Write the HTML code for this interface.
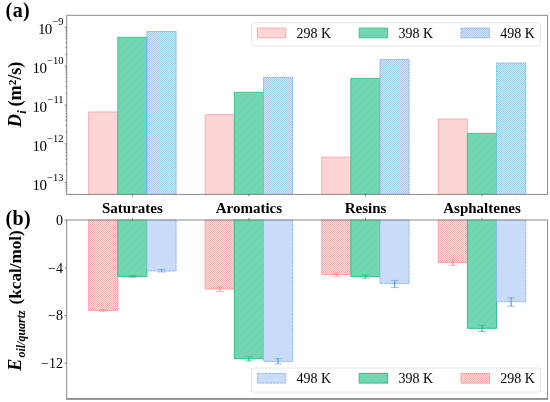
<!DOCTYPE html>
<html lang="en"><head><meta charset="utf-8"><title>Diffusion coefficients and interaction energies</title>
<style>
html,body{margin:0;padding:0;background:#fff;}
svg{display:block;font-family:"Liberation Serif","Times New Roman",serif;fill:#000;}
.b{font-weight:bold}
.i{font-style:italic}
</style></head><body>
<svg width="550" height="402" viewBox="0 0 550 402">
<defs>
<pattern id="pa" width="2" height="2" patternUnits="userSpaceOnUse"><rect width="2" height="2" fill="#FDD7D7"/><rect width="2" height="1" fill="#FCD2D2"/></pattern>
<pattern id="pb" width="2" height="2" patternUnits="userSpaceOnUse"><rect width="2" height="2" fill="#FDE0E0"/><rect width="1" height="1" fill="#FAAEAE"/><rect x="1" y="1" width="1" height="1" fill="#FAAEAE"/></pattern>
<pattern id="ga" width="8" height="8" patternUnits="userSpaceOnUse"><rect width="8" height="8" fill="#73D7B1"/><path d="M-2 10L10 -2M-2 2L2 -2M6 10L10 6" stroke="#6FD5AE" stroke-width="2"/></pattern>
<pattern id="ba" width="2" height="2" patternUnits="userSpaceOnUse"><rect width="2" height="2" fill="#D6E5FA"/><rect width="1" height="1" fill="#A9C9F5"/><rect x="1" y="1" width="1" height="1" fill="#A9C9F5"/></pattern>
<pattern id="bb" width="2" height="2" patternUnits="userSpaceOnUse"><rect width="2" height="2" fill="#CADDF9"/><rect width="2" height="1" fill="#C7DBF8"/></pattern>
</defs>
<rect width="550" height="402" fill="#fff"/>

<g>
<rect x="88.7" y="112.0" width="29.1" height="82.4" fill="url(#pa)" stroke="#F9ABAB" stroke-width="1"/>
<rect x="117.8" y="37.3" width="29.1" height="157.1" fill="url(#ga)" stroke="#42C193" stroke-width="1"/>
<rect x="147.0" y="31.5" width="29.1" height="162.9" fill="url(#ba)" stroke="#84B1F1" stroke-width="1" stroke-dasharray="2 0.6"/>
<rect x="205.2" y="114.7" width="29.1" height="79.7" fill="url(#pa)" stroke="#F9ABAB" stroke-width="1"/>
<rect x="234.4" y="92.3" width="29.1" height="102.1" fill="url(#ga)" stroke="#42C193" stroke-width="1"/>
<rect x="263.5" y="77.4" width="29.1" height="117.0" fill="url(#ba)" stroke="#84B1F1" stroke-width="1" stroke-dasharray="2 0.6"/>
<rect x="321.8" y="157.2" width="29.1" height="37.2" fill="url(#pa)" stroke="#F9ABAB" stroke-width="1"/>
<rect x="350.9" y="78.4" width="29.1" height="116.0" fill="url(#ga)" stroke="#42C193" stroke-width="1"/>
<rect x="380.0" y="59.4" width="29.1" height="135.0" fill="url(#ba)" stroke="#84B1F1" stroke-width="1" stroke-dasharray="2 0.6"/>
<rect x="438.3" y="119.0" width="29.1" height="75.4" fill="url(#pa)" stroke="#F9ABAB" stroke-width="1"/>
<rect x="467.4" y="133.4" width="29.1" height="61.0" fill="url(#ga)" stroke="#42C193" stroke-width="1"/>
<rect x="496.6" y="63.0" width="29.1" height="131.4" fill="url(#ba)" stroke="#84B1F1" stroke-width="1" stroke-dasharray="2 0.6"/>
</g>
<g>
<rect x="88.7" y="220.0" width="29.1" height="90.4" fill="url(#pb)" stroke="#F9A0A0" stroke-width="1"/>
<rect x="117.8" y="220.0" width="29.1" height="56.4" fill="url(#ga)" stroke="#38BD8C" stroke-width="1"/>
<rect x="147.0" y="220.0" width="29.1" height="51.0" fill="url(#bb)" stroke="#93BAF4" stroke-width="1" stroke-dasharray="3 0.7"/>
<rect x="205.2" y="220.0" width="29.1" height="69.0" fill="url(#pb)" stroke="#F9A0A0" stroke-width="1"/>
<rect x="234.4" y="220.0" width="29.1" height="138.6" fill="url(#ga)" stroke="#38BD8C" stroke-width="1"/>
<rect x="263.5" y="220.0" width="29.1" height="141.4" fill="url(#bb)" stroke="#93BAF4" stroke-width="1" stroke-dasharray="3 0.7"/>
<rect x="321.8" y="220.0" width="29.1" height="54.4" fill="url(#pb)" stroke="#F9A0A0" stroke-width="1"/>
<rect x="350.9" y="220.0" width="29.1" height="56.6" fill="url(#ga)" stroke="#38BD8C" stroke-width="1"/>
<rect x="380.0" y="220.0" width="29.1" height="63.6" fill="url(#bb)" stroke="#93BAF4" stroke-width="1" stroke-dasharray="3 0.7"/>
<rect x="438.3" y="220.0" width="29.1" height="42.4" fill="url(#pb)" stroke="#F9A0A0" stroke-width="1"/>
<rect x="467.4" y="220.0" width="29.1" height="108.3" fill="url(#ga)" stroke="#38BD8C" stroke-width="1"/>
<rect x="496.6" y="220.0" width="29.1" height="81.7" fill="url(#bb)" stroke="#93BAF4" stroke-width="1" stroke-dasharray="3 0.7"/>
<path d="M99.3 309.6h8M99.3 311.3h8" stroke="#F58C8C" stroke-width="1" stroke-opacity="0.6" fill="none"/><path d="M103.3 309.6V311.3" stroke="#F58C8C" stroke-width="1.2" fill="none"/>
<path d="M128.4 275.6h8M128.4 277.4h8" stroke="#2FB585" stroke-width="1" stroke-opacity="0.6" fill="none"/><path d="M132.4 275.6V277.4" stroke="#2FB585" stroke-width="1.2" fill="none"/>
<path d="M157.5 269.4h8M157.5 272.0h8" stroke="#5F98EC" stroke-width="1" stroke-opacity="0.6" fill="none"/><path d="M161.5 269.4V272.0" stroke="#5F98EC" stroke-width="1.2" fill="none"/>
<path d="M215.8 287.0h8M215.8 291.6h8" stroke="#F58C8C" stroke-width="1" stroke-opacity="0.6" fill="none"/><path d="M219.8 287.0V291.6" stroke="#F58C8C" stroke-width="1.2" fill="none"/>
<path d="M244.9 356.4h8M244.9 361.0h8" stroke="#2FB585" stroke-width="1" stroke-opacity="0.6" fill="none"/><path d="M248.9 356.4V361.0" stroke="#2FB585" stroke-width="1.2" fill="none"/>
<path d="M274.1 358.6h8M274.1 364.0h8" stroke="#5F98EC" stroke-width="1" stroke-opacity="0.6" fill="none"/><path d="M278.1 358.6V364.0" stroke="#5F98EC" stroke-width="1.2" fill="none"/>
<path d="M332.3 273.2h8M332.3 276.1h8" stroke="#F58C8C" stroke-width="1" stroke-opacity="0.6" fill="none"/><path d="M336.3 273.2V276.1" stroke="#F58C8C" stroke-width="1.2" fill="none"/>
<path d="M361.5 275.0h8M361.5 278.2h8" stroke="#2FB585" stroke-width="1" stroke-opacity="0.6" fill="none"/><path d="M365.5 275.0V278.2" stroke="#2FB585" stroke-width="1.2" fill="none"/>
<path d="M390.6 280.4h8M390.6 287.6h8" stroke="#5F98EC" stroke-width="1" stroke-opacity="0.6" fill="none"/><path d="M394.6 280.4V287.6" stroke="#5F98EC" stroke-width="1.2" fill="none"/>
<path d="M448.9 259.9h8M448.9 265.4h8" stroke="#F58C8C" stroke-width="1" stroke-opacity="0.6" fill="none"/><path d="M452.9 259.9V265.4" stroke="#F58C8C" stroke-width="1.2" fill="none"/>
<path d="M478.0 325.3h8M478.0 331.5h8" stroke="#2FB585" stroke-width="1" stroke-opacity="0.6" fill="none"/><path d="M482.0 325.3V331.5" stroke="#2FB585" stroke-width="1.2" fill="none"/>
<path d="M507.1 297.7h8M507.1 306.2h8" stroke="#5F98EC" stroke-width="1" stroke-opacity="0.6" fill="none"/><path d="M511.1 297.7V306.2" stroke="#5F98EC" stroke-width="1.2" fill="none"/>
</g>
<rect x="66.7" y="15.3" width="480.8" height="179.1" fill="none" stroke="#8a8a8a" stroke-width="1"/>
<rect x="66.7" y="220.0" width="480.8" height="178.7" fill="none" stroke="#8a8a8a" stroke-width="1"/>
<path d="M66.2 398.9H548.0" stroke="#858585" stroke-width="1.5" fill="none"/>
<path d="M66.7 27.3h-2M66.7 66.1h-2M66.7 105.0h-2M66.7 143.8h-2M66.7 182.6h-2M66.7 54.4h-1.2M66.7 47.6h-1.2M66.7 42.8h-1.2M66.7 39.0h-1.2M66.7 35.9h-1.2M66.7 33.3h-1.2M66.7 31.1h-1.2M66.7 29.1h-1.2M66.7 93.3h-1.2M66.7 86.4h-1.2M66.7 81.6h-1.2M66.7 77.8h-1.2M66.7 74.7h-1.2M66.7 72.1h-1.2M66.7 69.9h-1.2M66.7 67.9h-1.2M66.7 132.1h-1.2M66.7 125.3h-1.2M66.7 120.4h-1.2M66.7 116.6h-1.2M66.7 113.6h-1.2M66.7 111.0h-1.2M66.7 108.7h-1.2M66.7 106.7h-1.2M66.7 170.9h-1.2M66.7 164.1h-1.2M66.7 159.2h-1.2M66.7 155.5h-1.2M66.7 152.4h-1.2M66.7 149.8h-1.2M66.7 147.6h-1.2M66.7 145.6h-1.2M66.7 191.2h-1.2M66.7 188.6h-1.2M66.7 186.4h-1.2M66.7 184.4h-1.2M132.4 194.4v2M132.4 220.0v-2M248.9 194.4v2M248.9 220.0v-2M365.5 194.4v2M365.5 220.0v-2M482.0 194.4v2M482.0 220.0v-2M66.7 220.2h-2M66.7 267.9h-2M66.7 315.5h-2M66.7 363.2h-2" stroke="#606060" stroke-width="0.8" fill="none"/>
<text x="51.6" y="34.2" font-size="15" text-anchor="end" letter-spacing="-0.7">10</text>
<text x="63.6" y="25.3" font-size="10.5" text-anchor="end">−9</text>
<text x="46.2" y="73.0" font-size="15" text-anchor="end" letter-spacing="-0.7">10</text>
<text x="63.6" y="64.1" font-size="10.5" text-anchor="end">−10</text>
<text x="46.2" y="111.9" font-size="15" text-anchor="end" letter-spacing="-0.7">10</text>
<text x="63.6" y="103.0" font-size="10.5" text-anchor="end">−11</text>
<text x="46.2" y="150.7" font-size="15" text-anchor="end" letter-spacing="-0.7">10</text>
<text x="63.6" y="141.8" font-size="10.5" text-anchor="end">−12</text>
<text x="46.2" y="189.5" font-size="15" text-anchor="end" letter-spacing="-0.7">10</text>
<text x="63.6" y="180.6" font-size="10.5" text-anchor="end">−13</text>
<text x="63" y="224.8" font-size="14" text-anchor="end">0</text>
<text x="63" y="272.5" font-size="14" text-anchor="end">−4</text>
<text x="63" y="320.2" font-size="14" text-anchor="end">−8</text>
<text x="63" y="367.8" font-size="14" text-anchor="end">−12</text>
<text class="b" x="132.4" y="213.2" font-size="15" text-anchor="middle">Saturates</text>
<text class="b" x="248.9" y="213.2" font-size="15" text-anchor="middle">Aromatics</text>
<text class="b" x="365.5" y="213.2" font-size="15" text-anchor="middle">Resins</text>
<text class="b" x="482.0" y="213.2" font-size="15" text-anchor="middle">Asphaltenes</text>
<text class="b" x="5.6" y="17.4" font-size="20" letter-spacing="0.4">(a)</text>
<text class="b" x="5.4" y="224.6" font-size="20" letter-spacing="0.4">(b)</text>
<g transform="translate(21.2,127.2) rotate(-90)"><text class="b" font-size="18.3"><tspan class="i">D</tspan><tspan class="i" font-size="12.5" dy="4.5" dx="0.3">i</tspan><tspan dy="-4.5" dx="3.6">(m²/s)</tspan></text></g>
<g transform="translate(21.1,372) rotate(-90)"><text class="b" font-size="17.15"><tspan class="i" font-size="18" x="1.2">E</tspan><tspan class="i" font-size="12" dy="4.2" dx="1.2">oil/quartz</tspan><tspan dy="-4.2" dx="5.8">(kcal/mol)</tspan></text></g>
<rect x="251.6" y="22.7" width="288.9" height="23.2" rx="3" ry="3" fill="#fff" fill-opacity="0.8" stroke="#e4e4e4" stroke-width="1"/>
<rect x="257.4" y="28.1" width="28.4" height="9.7" fill="url(#pa)" stroke="#F9ABAB" stroke-width="1"/>
<text x="296.6" y="37.9" font-size="14">298 K</text>
<rect x="359.2" y="28.1" width="28.4" height="9.7" fill="url(#ga)" stroke="#42C193" stroke-width="1"/>
<text x="398.4" y="37.9" font-size="14">398 K</text>
<rect x="461.0" y="28.1" width="28.4" height="9.7" fill="url(#ba)" stroke="#84B1F1" stroke-width="1" stroke-dasharray="2 0.6"/>
<text x="500.2" y="37.9" font-size="14">498 K</text>
<rect x="251.6" y="368.0" width="288.9" height="24.1" rx="3" ry="3" fill="#fff" fill-opacity="0.8" stroke="#e4e4e4" stroke-width="1"/>
<rect x="257.4" y="373.4" width="28.4" height="9.7" fill="url(#bb)" stroke="#93BAF4" stroke-width="1" stroke-dasharray="3 0.7"/>
<text x="296.6" y="383.2" font-size="14">498 K</text>
<rect x="359.2" y="373.4" width="28.4" height="9.7" fill="url(#ga)" stroke="#38BD8C" stroke-width="1"/>
<text x="398.4" y="383.2" font-size="14">398 K</text>
<rect x="461.0" y="373.4" width="28.4" height="9.7" fill="url(#pb)" stroke="#F9A0A0" stroke-width="1"/>
<text x="500.2" y="383.2" font-size="14">298 K</text>
</svg>
</body></html>
